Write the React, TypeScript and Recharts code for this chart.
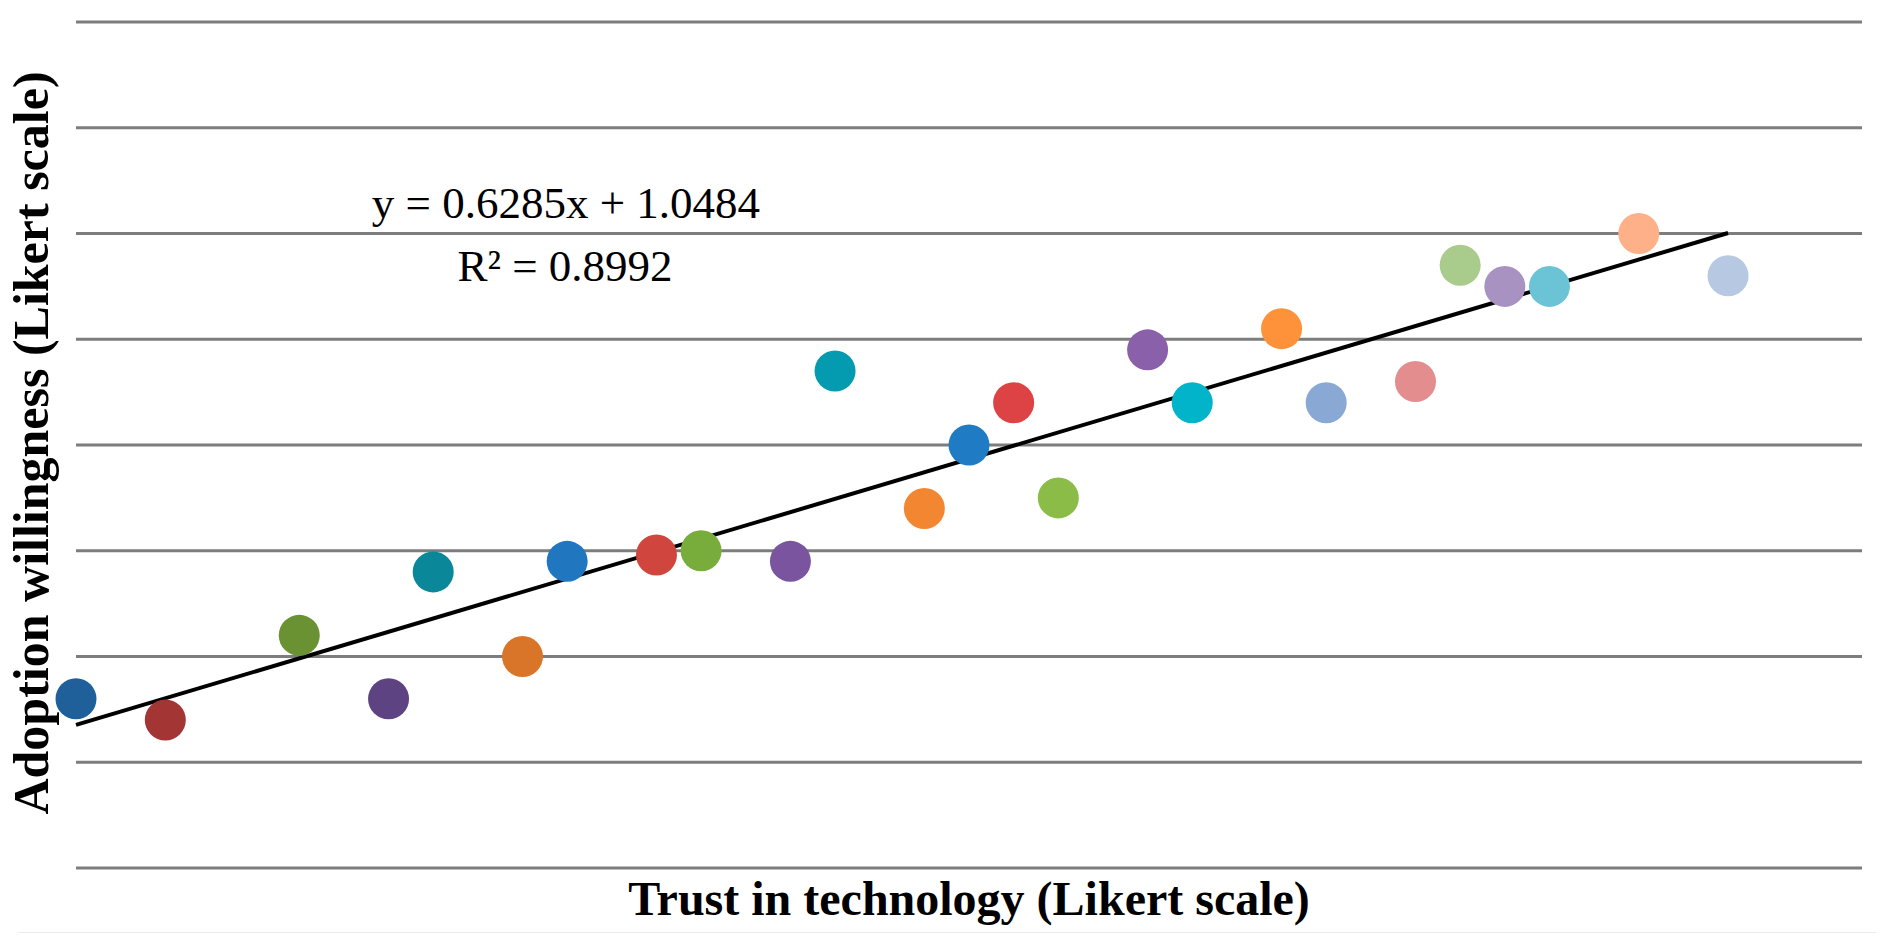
import React from "react";
import {
  ScatterChart,
  Scatter,
  XAxis,
  YAxis,
  CartesianGrid,
  Cell,
  ReferenceLine,
  Customized,
} from "recharts";

// survey means per respondent group (Likert 1-5)
const trustScores = [
  1.0, 1.2, 1.5, 1.7, 1.8, 2.0, 2.1, 2.3, 2.4, 2.6, 2.7, 2.9, 3.0, 3.1, 3.2,
  3.4, 3.5, 3.7, 3.8, 4.0, 4.1, 4.2, 4.3, 4.5, 4.7,
];
const adoptionScores = [
  1.8, 1.7, 2.1, 1.8, 2.4, 2.0, 2.45, 2.48, 2.5, 2.45, 3.35, 2.7, 3.0, 3.2,
  2.75, 3.45, 3.2, 3.55, 3.2, 3.3, 3.85, 3.75, 3.75, 4.0, 3.8,
];
const yTicks = [1, 1.5, 2, 2.5, 3, 3.5, 4, 4.5, 5];

// linear trend as printed on the chart
const SLOPE = 0.6285;
const INTERCEPT = 1.0484;
const equationLabel = "y = 0.6285x + 1.0484";
const r2Label = "R² = 0.8992";
const xTitle = "Trust in technology (Likert scale)";
const yTitle = "Adoption willingness (Likert scale)";

const pointColors = [
  "#1f5f9a", "#a33634", "#6a9232", "#5e4383", "#0a8899", "#d97528",
  "#2077bf", "#d0463f", "#79ad3b", "#7b54a0", "#049ab0", "#f28631",
  "#1f7bc4", "#dd4344", "#8bbc47", "#8b60ab", "#01b4c9", "#fe923a",
  "#8aa8d4", "#e38d8e", "#a9cb8b", "#a892c1", "#6bc3d6", "#feb088",
  "#b6c8e2",
];

const W = 1891;
const H = 949;
const FONT = '"Liberation Serif", "Times New Roman", serif';

const points = trustScores.map((x, i) => ({ x, y: adoptionScores[i] }));
const xMin = Math.min(...trustScores);
const xMax = Math.max(...trustScores);

export default function App() {
  return (
    <div style={{ position: "relative", width: W, height: H, background: "#fff" }}>
      <style>{`body { margin: 0; }`}</style>
      <ScatterChart
        width={W}
        height={H}
        margin={{ top: 22, right: 29, bottom: 81, left: 76 }}
      >
        <CartesianGrid vertical={false} stroke="#7d7d7d" strokeWidth={3} />
        <XAxis type="number" dataKey="x" domain={[1, 5]} hide />
        <YAxis type="number" dataKey="y" domain={[1, 5]} ticks={yTicks} hide />
        <Scatter
          data={points}
          isAnimationActive={false}
          shape={(p: any) => <circle cx={p.cx} cy={p.cy} r={20.5} fill={p.fill} />}
        >
          {points.map((_, i) => (
            <Cell key={i} fill={pointColors[i]} />
          ))}
        </Scatter>
        <ReferenceLine
          segment={[
            { x: xMin, y: SLOPE * xMin + INTERCEPT },
            { x: xMax, y: SLOPE * xMax + INTERCEPT },
          ]}
          stroke="#000"
          strokeWidth={4}
          ifOverflow="visible"
        />
        <Customized
          component={() => (
            <g fontFamily={FONT} fill="#000">
              <text x={566} y={218} textAnchor="middle" fontSize={45}>
                {equationLabel}
              </text>
              <text x={565} y={281} textAnchor="middle" fontSize={45}>
                {r2Label}
              </text>
              <text x={969} y={915} textAnchor="middle" fontSize={48} fontWeight="bold">
                {xTitle}
              </text>
              <text
                x={48}
                y={443}
                textAnchor="middle"
                fontSize={50}
                fontWeight="bold"
                transform="rotate(-90, 48, 443)"
              >
                {yTitle}
              </text>
            </g>
          )}
        />
      </ScatterChart>
      <div
        style={{
          position: "absolute",
          left: 18,
          top: 932,
          width: 1858,
          height: 1,
          background: "#ececec",
        }}
      />
    </div>
  );
}
